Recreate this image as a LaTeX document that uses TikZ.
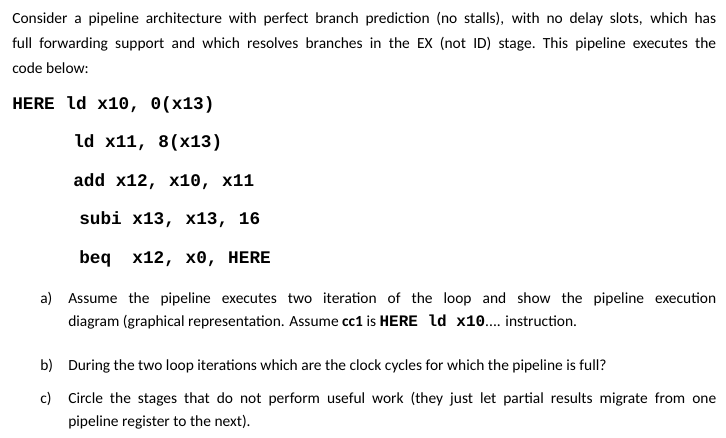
\documentclass[tikz,border=0pt]{standalone}
\usepackage{fontspec}
\setmainfont{Carlito}
\setmonofont{Liberation Mono}
\begin{document}
\begin{tikzpicture}[x=0.75pt,y=-0.75pt,
  jl/.style={anchor=base west,inner sep=0pt,font=\fontsize{11.6}{13}\selectfont,align=justify},
  ll/.style={anchor=base west,inner sep=0pt,font=\fontsize{11.6}{13}\selectfont},
  code/.style={anchor=base west,inner sep=0pt,font=\fontsize{13.3}{15}\selectfont\ttfamily\bfseries}]
\useasboundingbox (0,0) rectangle (726,437);
\node[jl,text width=704*0.75pt] (p1) at (12,23) {\parfillskip=0pt Consider a pipeline architecture with perfect branch prediction (no stalls), with no delay slots, which has\par};
\node[jl,text width=704*0.75pt] (p2) at (12,48) {\parfillskip=0pt full forwarding support and which resolves branches in the EX (not ID) stage.\ This pipeline executes the\par};
\node[ll] (p3) at (12,73) {code below:};
\node[code] (c1) at (12,109) {HERE ld x10, 0(x13)};
\node[code] (c2) at (73,147) {ld x11, 8(x13)};
\node[code] (c3) at (73,186) {add x12, x10, x11};
\node[code] (c4) at (79,224) {subi x13, x13, 16};
\node[code] (c5) at (79,263) {beq\ \ x12, x0, HERE};
\node[ll] (la) at (40,303) {a)};
\node[jl,text width=648*0.75pt] (a1) at (68,303) {\parfillskip=0pt Assume the pipeline executes two iteration of the loop and show the pipeline execution\par};
\node[ll] (a2) at (68,326) {diagram (graphical representation. Assume \textbf{cc1} is {\ttfamily\bfseries\fontsize{12}{13}\selectfont HERE\ ld x10}.... instruction.};
\node[ll] (lb) at (40,370) {b)};
\node[ll] (b1) at (68,370) {During the two loop iterations which are the clock cycles for which the pipeline is full?};
\node[ll] (lc) at (40,403) {c)};
\node[jl,text width=648*0.75pt] (c1t) at (68,403) {\parfillskip=0pt Circle the stages that do not perform useful work (they just let partial results migrate from one\par};
\node[ll] (c2t) at (68,426) {pipeline register to the next).};
\end{tikzpicture}
\end{document}
